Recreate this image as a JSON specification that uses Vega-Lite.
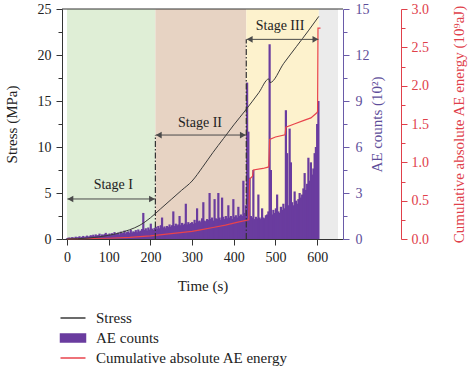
{
  "$schema": "https://vega.github.io/schema/vega-lite/v6.json",
  "width": 281,
  "height": 230,
  "autosize": "none",
  "padding": {"left": 62, "top": 9, "right": 131, "bottom": 129},
  "background": "white",
  "datasets": {
    "stages": [
      {"a": 0, "b": 212, "stage": "I"},
      {"a": 212, "b": 430, "stage": "II"},
      {"a": 430, "b": 604, "stage": "III"},
      {"a": 604, "b": 650, "stage": "end"}
    ],
    "ae": [
      {"t":0,"c":0.05},{"t":3,"c":0.08},{"t":6,"c":0.1},{"t":9,"c":0.06},{"t":12,"c":0.12},{"t":15,"c":0.1},{"t":18,"c":0.08},{"t":21,"c":0.15},{"t":24,"c":0.1},{"t":27,"c":0.12},
      {"t":30,"c":0.18},{"t":33,"c":0.1},{"t":36,"c":0.14},{"t":39,"c":0.2},{"t":42,"c":0.12},{"t":45,"c":0.16},{"t":48,"c":0.22},{"t":51,"c":0.15},{"t":54,"c":0.18},{"t":57,"c":0.25},
      {"t":60,"c":0.2},{"t":63,"c":0.28},{"t":66,"c":0.18},{"t":69,"c":0.3},{"t":72,"c":0.22},{"t":75,"c":0.26},{"t":78,"c":0.35},{"t":81,"c":0.2},{"t":84,"c":0.3},{"t":87,"c":0.25},
      {"t":90,"c":0.32},{"t":93,"c":0.4},{"t":96,"c":0.28},{"t":99,"c":0.3},{"t":102,"c":0.36},{"t":105,"c":0.25},{"t":108,"c":0.38},{"t":111,"c":0.3},{"t":114,"c":0.45},{"t":117,"c":0.32},
      {"t":120,"c":0.35},{"t":123,"c":0.42},{"t":126,"c":0.3},{"t":129,"c":0.48},{"t":132,"c":0.38},{"t":135,"c":0.4},{"t":138,"c":0.55},{"t":141,"c":0.36},{"t":144,"c":0.45},{"t":147,"c":0.5},
      {"t":150,"c":0.4},{"t":153,"c":0.6},{"t":156,"c":0.42},{"t":159,"c":0.5},{"t":162,"c":0.46},{"t":165,"c":0.58},{"t":168,"c":0.44},{"t":171,"c":0.62},{"t":174,"c":0.5},{"t":177,"c":0.55},
      {"t":180,"c":0.65},{"t":183,"c":1.7},{"t":186,"c":0.6},{"t":189,"c":0.7},{"t":192,"c":0.55},{"t":195,"c":0.75},{"t":198,"c":0.62},{"t":201,"c":1.0},{"t":204,"c":0.68},{"t":207,"c":0.6},
      {"t":210,"c":0.72},{"t":213,"c":0.8},{"t":216,"c":0.65},{"t":219,"c":0.85},{"t":222,"c":0.7},{"t":225,"c":0.9},{"t":228,"c":1.4},{"t":231,"c":0.75},{"t":234,"c":0.82},{"t":237,"c":0.7},
      {"t":240,"c":0.85},{"t":243,"c":0.78},{"t":246,"c":0.95},{"t":249,"c":0.8},{"t":252,"c":0.9},{"t":255,"c":1.8},{"t":258,"c":0.85},{"t":261,"c":1.0},{"t":264,"c":0.88},{"t":267,"c":0.95},
      {"t":270,"c":1.5},{"t":273,"c":0.9},{"t":276,"c":1.05},{"t":279,"c":0.92},{"t":282,"c":1.0},{"t":285,"c":2.3},{"t":288,"c":0.95},{"t":291,"c":1.1},{"t":294,"c":0.98},{"t":297,"c":1.05},
      {"t":300,"c":1.1},{"t":303,"c":1.0},{"t":306,"c":1.25},{"t":309,"c":1.05},{"t":312,"c":2.0},{"t":315,"c":1.15},{"t":318,"c":1.2},{"t":321,"c":1.1},{"t":324,"c":1.35},{"t":327,"c":2.4},
      {"t":330,"c":1.2},{"t":333,"c":1.15},{"t":336,"c":1.3},{"t":339,"c":1.25},{"t":342,"c":3.0},{"t":345,"c":1.3},{"t":348,"c":1.4},{"t":351,"c":1.2},{"t":354,"c":2.6},{"t":357,"c":1.35},
      {"t":360,"c":1.3},{"t":363,"c":3.0},{"t":366,"c":1.4},{"t":369,"c":1.25},{"t":372,"c":2.7},{"t":375,"c":1.45},{"t":378,"c":1.3},{"t":381,"c":1.5},{"t":384,"c":1.35},{"t":387,"c":2.2},
      {"t":390,"c":1.4},{"t":393,"c":1.5},{"t":396,"c":1.3},{"t":399,"c":2.6},{"t":402,"c":1.45},{"t":405,"c":1.55},{"t":408,"c":1.4},{"t":411,"c":2.1},{"t":414,"c":1.5},{"t":417,"c":1.6},
      {"t":420,"c":1.5},{"t":423,"c":3.8},{"t":426,"c":1.7},{"t":429,"c":2.2},{"t":432,"c":10.2},{"t":435,"c":7.0},{"t":438,"c":4.0},{"t":441,"c":1.5},{"t":444,"c":1.4},{"t":447,"c":4.5},
      {"t":450,"c":1.3},{"t":453,"c":1.45},{"t":456,"c":1.35},{"t":459,"c":2.9},{"t":462,"c":1.4},{"t":465,"c":1.3},{"t":468,"c":2.0},{"t":471,"c":1.4},{"t":474,"c":1.35},{"t":477,"c":1.55},
      {"t":480,"c":1.6},{"t":483,"c":1.8},{"t":486,"c":12.7},{"t":489,"c":4.5},{"t":492,"c":1.6},{"t":495,"c":1.9},{"t":498,"c":1.7},{"t":501,"c":2.0},{"t":504,"c":2.9},{"t":507,"c":1.8},
      {"t":510,"c":1.7},{"t":513,"c":2.1},{"t":516,"c":1.9},{"t":519,"c":2.3},{"t":522,"c":2.0},{"t":525,"c":8.4},{"t":528,"c":5.6},{"t":531,"c":2.2},{"t":534,"c":7.2},{"t":537,"c":5.0},
      {"t":540,"c":2.4},{"t":543,"c":2.2},{"t":546,"c":3.1},{"t":549,"c":2.5},{"t":552,"c":2.3},{"t":555,"c":2.6},{"t":558,"c":3.0},{"t":561,"c":2.7},{"t":564,"c":2.9},{"t":567,"c":3.3},
      {"t":570,"c":4.3},{"t":573,"c":3.2},{"t":576,"c":3.6},{"t":579,"c":5.3},{"t":582,"c":3.8},{"t":585,"c":5.0},{"t":588,"c":4.2},{"t":591,"c":4.6},{"t":594,"c":5.6},{"t":597,"c":6.0},
      {"t":600,"c":7.5},{"t":603,"c":9.0}
    ],
    "stress": [
      {"t":0,"s":0},{"t":25,"s":0.03},{"t":50,"s":0.1},{"t":75,"s":0.22},{"t":100,"s":0.4},{"t":125,"s":0.65},{"t":150,"s":1.0},{"t":175,"s":1.5},{"t":200,"s":2.3},{"t":225,"s":3.3},
      {"t":250,"s":4.3},{"t":275,"s":5.3},{"t":300,"s":6.3},{"t":325,"s":7.8},{"t":350,"s":9.4},{"t":375,"s":10.9},{"t":400,"s":12.4},{"t":430,"s":14.1},{"t":460,"s":15.9},{"t":484,"s":17.4},
      {"t":487,"s":17.0},{"t":520,"s":19.1},{"t":550,"s":20.9},{"t":580,"s":22.7},{"t":604,"s":24.2}
    ],
    "energy": [
      {"t":0,"e":0},{"t":100,"e":0.01},{"t":150,"e":0.02},{"t":200,"e":0.04},{"t":250,"e":0.07},{"t":300,"e":0.1},{"t":320,"e":0.12},{"t":350,"e":0.15},{"t":380,"e":0.18},{"t":410,"e":0.22},
      {"t":436,"e":0.25},{"t":438,"e":0.78},{"t":445,"e":0.82},{"t":447,"e":0.9},{"t":470,"e":0.92},{"t":484,"e":0.94},{"t":486,"e":1.3},{"t":500,"e":1.33},{"t":523,"e":1.36},{"t":525,"e":1.46},
      {"t":545,"e":1.5},{"t":570,"e":1.55},{"t":585,"e":1.58},{"t":598,"e":1.64},{"t":601,"e":1.66},{"t":602,"e":2.75},{"t":608,"e":2.75}
    ],
    "dividers": [{"t": 212, "bot": 0, "top": 11.3}, {"t": 430, "bot": 0, "top": 21.7}],
    "frame": [{"s": 25}],
    "arrows": [
      {"a": 1, "b": 211, "lvl": 4.35},
      {"a": 213, "b": 429, "lvl": 11.3},
      {"a": 431, "b": 603, "lvl": 21.7}
    ],
    "labels": [
      {"t": 111, "s": 5.9, "txt": "Stage I"},
      {"t": 319, "s": 12.6, "txt": "Stage II"},
      {"t": 511, "s": 23.2, "txt": "Stage III"}
    ]
  },
  "layer": [
    {
      "data": {"name": "stages"},
      "mark": {"type": "rect"},
      "encoding": {
        "x": {"field": "a", "type": "quantitative", "scale": {"domain": [0, 650], "nice": false},
          "axis": {"orient": "bottom", "title": "Time (s)", "values": [0,50,100,150,200,250,300,350,400,450,500,550,600],
            "labelExpr": "datum.value % 100 ? '' : datum.label",
            "tickSize": {"condition": {"test": "datum.value % 100", "value": 4}, "value": 6},
            "labelPadding": 5, "titlePadding": 14}},
        "x2": {"field": "b"},
        "fill": {"field": "stage", "type": "nominal", "legend": null,
          "scale": {"domain": ["I", "II", "III", "end"], "range": ["#dfeed6", "#e7d3c3", "#fdf2cd", "#ebebeb"]}}
      }
    },
    {
      "data": {"name": "ae"},
      "mark": {"type": "bar", "size": 2.2},
      "encoding": {
        "x": {"field": "t", "type": "quantitative"},
        "y": {"field": "c", "type": "quantitative", "scale": {"domain": [0, 15], "nice": false},
          "axis": {"orient": "right", "title": "AE counts (10²)", "titleAngle": 270,
            "values": [0,1.5,3,4.5,6,7.5,9,10.5,12,13.5,15],
            "labelExpr": "datum.value % 3 ? '' : datum.label",
            "tickSize": {"condition": {"test": "datum.value % 3", "value": 4}, "value": 6},
            "domainColor": "#6a5ba8", "tickColor": "#6a5ba8", "labelColor": "#5e4e9a", "titleColor": "#5e4e9a",
            "labelPadding": 6, "titlePadding": 15}},
        "color": {"datum": "AE counts", "type": "nominal",
          "scale": {"domain": ["Stress", "AE counts", "Cumulative absolute AE energy"], "range": ["#3a3a3a", "#6a3c9f", "#e8434c"]},
          "legend": {"orient": "bottom", "direction": "vertical", "title": null, "labelFontSize": 15, "labelLimit": 400,
            "labelColor": "#222", "symbolSize": 400, "labelOffset": 12, "rowPadding": 1, "offset": 14,
            "encode": {"symbols": {"update": {
              "shape": {"signal": "datum.value === 'AE counts' ? 'M-1.25,-0.4H1.25V0.4H-1.25Z' : 'M-1.25,0H1.25'"},
              "fill": {"signal": "datum.value === 'AE counts' ? '#6a3c9f' : 'transparent'"},
              "stroke": {"signal": "datum.value === 'Stress' ? '#808080' : datum.value === 'AE counts' ? 'transparent' : '#ee5f68'"},
              "strokeWidth": {"value": 1.5},
              "opacity": {"value": 1}
            }}}}
        }
      }
    },
    {
      "data": {"name": "energy"},
      "mark": {"type": "line", "strokeWidth": 1.2},
      "encoding": {
        "x": {"field": "t", "type": "quantitative"},
        "y": {"field": "e", "type": "quantitative", "scale": {"domain": [0, 3], "nice": false},
          "axis": {"orient": "right", "offset": 58, "title": "Cumulative absolute AE energy (10⁹aJ)", "titleAngle": 270,
            "values": [0,0.25,0.5,0.75,1,1.25,1.5,1.75,2,2.25,2.5,2.75,3],
            "labelExpr": "datum.value % 0.5 ? '' : format(datum.value, '.1f')",
            "tickSize": {"condition": {"test": "datum.value % 0.5", "value": 4}, "value": 6},
            "domainColor": "#e0404a", "tickColor": "#e0404a", "labelColor": "#e0404a", "titleColor": "#e0404a",
            "labelPadding": 4, "titlePadding": 38}},
        "color": {"datum": "Cumulative absolute AE energy", "type": "nominal"}
      }
    },
    {
      "data": {"name": "stress"},
      "mark": {"type": "line", "strokeWidth": 1, "interpolate": "monotone"},
      "encoding": {
        "x": {"field": "t", "type": "quantitative"},
        "y": {"field": "s", "type": "quantitative", "scale": {"domain": [0, 25], "nice": false},
          "axis": {"orient": "left", "title": "Stress (MPa)",
            "values": [0,2.5,5,7.5,10,12.5,15,17.5,20,22.5,25],
            "labelExpr": "datum.value % 5 ? '' : datum.label",
            "tickSize": {"condition": {"test": "datum.value % 5", "value": 4}, "value": 6},
            "labelPadding": 5, "titlePadding": 18}},
        "color": {"datum": "Stress", "type": "nominal"}
      }
    },
    {
      "data": {"name": "frame"},
      "mark": {"type": "rule", "color": "#333", "strokeWidth": 1},
      "encoding": {
        "y": {"field": "s", "type": "quantitative", "scale": {"domain": [0, 25], "nice": false}, "axis": null}
      }
    },
    {
      "data": {"name": "dividers"},
      "mark": {"type": "rule", "color": "#333", "strokeWidth": 1.2, "strokeDash": [6, 2, 1.5, 2]},
      "encoding": {
        "x": {"field": "t", "type": "quantitative"},
        "y": {"field": "bot", "type": "quantitative", "scale": {"domain": [0, 25], "nice": false}, "axis": null},
        "y2": {"field": "top"}
      }
    },
    {
      "data": {"name": "arrows"},
      "mark": {"type": "rule", "color": "#4a4a4a", "strokeWidth": 1},
      "encoding": {
        "x": {"field": "a", "type": "quantitative"},
        "x2": {"field": "b"},
        "y": {"field": "lvl", "type": "quantitative", "scale": {"domain": [0, 25], "nice": false}, "axis": null}
      }
    },
    {
      "data": {"name": "arrows"},
      "mark": {"type": "point", "shape": "triangle-left", "filled": true, "color": "#4a4a4a", "size": 45, "opacity": 1, "xOffset": 3},
      "encoding": {
        "x": {"field": "a", "type": "quantitative"},
        "y": {"field": "lvl", "type": "quantitative", "scale": {"domain": [0, 25], "nice": false}, "axis": null}
      }
    },
    {
      "data": {"name": "arrows"},
      "mark": {"type": "point", "shape": "triangle-right", "filled": true, "color": "#4a4a4a", "size": 45, "opacity": 1, "xOffset": -3},
      "encoding": {
        "x": {"field": "b", "type": "quantitative"},
        "y": {"field": "lvl", "type": "quantitative", "scale": {"domain": [0, 25], "nice": false}, "axis": null}
      }
    },
    {
      "data": {"name": "labels"},
      "mark": {"type": "text", "font": "Liberation Serif", "fontSize": 14, "color": "#222"},
      "encoding": {
        "x": {"field": "t", "type": "quantitative"},
        "y": {"field": "s", "type": "quantitative", "scale": {"domain": [0, 25], "nice": false}, "axis": null},
        "text": {"field": "txt"}
      }
    }
  ],
  "resolve": {
    "scale": {"y": "independent"}
  },
  "config": {
    "font": "Liberation Serif",
    "view": {"stroke": null},
    "axis": {"labelFontSize": 14, "titleFontSize": 15, "titleFontWeight": "normal", "labelColor": "#222", "titleColor": "#222",
      "domainColor": "#333", "tickColor": "#333", "grid": false, "zindex": 1, "labelFont": "Liberation Serif", "titleFont": "Liberation Serif"},
    "legend": {"labelFont": "Liberation Serif"}
  }
}
